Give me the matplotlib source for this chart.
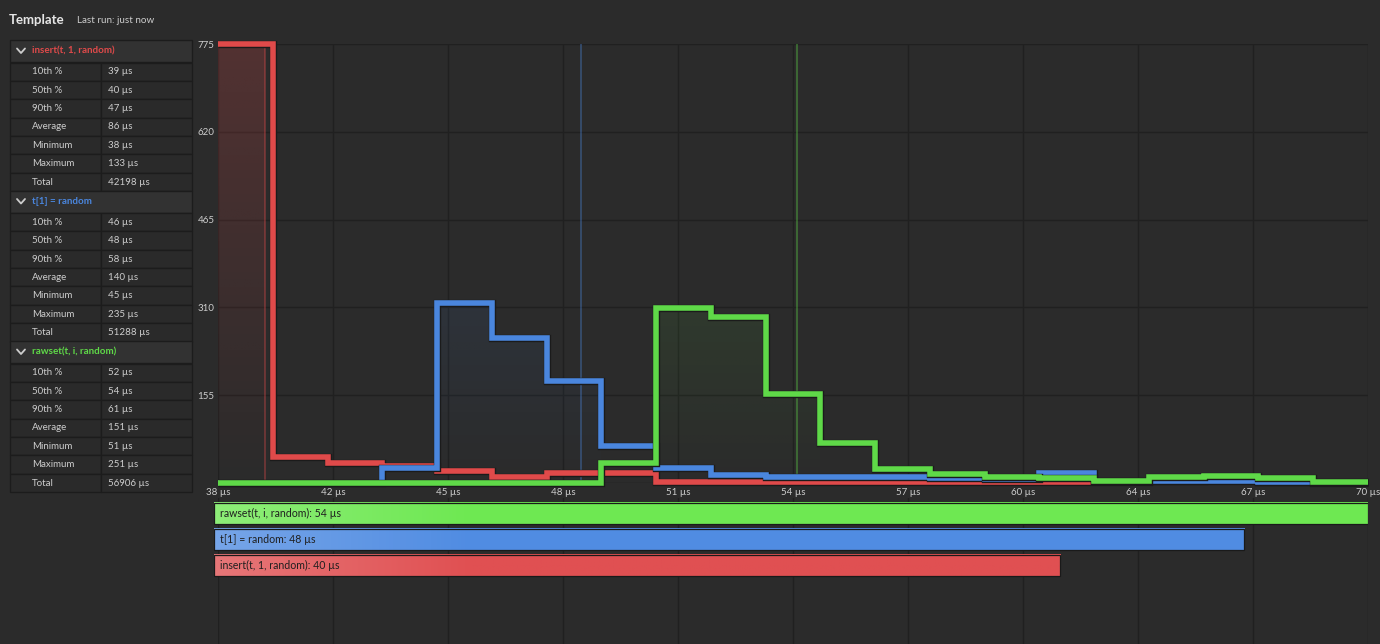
import numpy as np
import matplotlib
matplotlib.use("Agg")
import matplotlib.pyplot as plt
import matplotlib.patheffects as pe
from matplotlib.patches import Rectangle, PathPatch
from matplotlib.path import Path

plt.rcParams['font.family'] = ['Lato', 'DejaVu Sans']

# ---- data ----
x_tick_labels = ["38 µs", "42 µs", "45 µs", "48 µs", "51 µs", "54 µs",
                 "57 µs", "60 µs", "64 µs", "67 µs", "70 µs"]
y_ticks = [0, 155, 310, 465, 620, 775]

series_names = ["insert(t, 1, random)", "t[1] = random", "rawset(t, i, random)"]
line_colors = ["#e04a4a", "#4a86de", "#5fd948"]
bar_colors = ["#e05052", "#508ce2", "#6ee852"]

insert_counts = [775, 46, 35, 30.5, 21, 11, 18, 17, 2, 2, 2, 2, 2, 2,
                 1, 1, 1, 3.5, 6.5, 2.3, 0]
assign_counts = [0, 0, 0, 26, 318, 256, 180, 66, 27, 14, 11, 10.5, 10, 8.8,
                 7, 17, 4, 3, 3, 2, 2]
rawset_counts = [0, 0, 0, 0, 0, 0, 0, 35, 309, 293, 157, 71, 24, 16,
                 11, 8.3, 4, 10, 13, 8.8, 2.3]

median_lines = [39.3, 48.1, 54.1]
fill_ranges = [(38.0, 39.3), (44.1, 48.67), (50.19, 54.76)]

bar_values = [39.6, 48.2, 54.0]
bar_medians = [40, 48, 54]

stat_names = ["10th %", "50th %", "90th %", "Average", "Minimum", "Maximum", "Total"]
insert_stats = [39, 40, 47, 86, 38, 133, 42198]
assign_stats = [46, 48, 58, 140, 45, 235, 51288]
rawset_stats = [52, 54, 61, 151, 51, 251, 56906]

# ---- layout helpers ----
W, H = 1380, 644
BG = "#2b2b2b"
GRID = "#202020"
TXT = "#cdcdcd"


def px_rect(x0, y0, x1, y1):
    return [x0 / W, 1 - y1 / H, (x1 - x0) / W, (y1 - y0) / H]


fig = plt.figure(figsize=(W / 100, H / 100), dpi=100, facecolor=BG)

bg = fig.add_axes([0, 0, 1, 1], zorder=0)
bg.set_xlim(0, W)
bg.set_ylim(H, 0)
bg.axis("off")

# title
bg.text(9, 20, "Template", color="#e6e6e6", fontsize=9.5, fontweight="bold", va="center")
bg.text(77, 20, "Last run: just now", color=TXT, fontsize=7.1, va="center")

# stats table
all_stats = [insert_stats, assign_stats, rawset_stats]
for s, (name, stats) in enumerate(zip(series_names, all_stats)):
    y0 = 40 + s * 150.5
    bg.add_patch(Rectangle((10, y0), 182, 22, facecolor="#323232",
                           edgecolor="#1c1c1c", lw=1))
    cy = y0 + 11
    bg.plot([17, 21, 25], [cy - 2.5, cy + 2, cy - 2.5], color=TXT, lw=1.3,
            solid_capstyle="round")
    bg.text(32, cy, name, color=line_colors[s], fontsize=7.1,
            fontweight="bold", va="center")
    for r, (label, val) in enumerate(zip(stat_names, stats)):
        ry = y0 + 22.5 + r * 18.36
        bg.add_patch(Rectangle((10, ry), 91, 18.36, facecolor="#2a2a2a",
                               edgecolor="#1c1c1c", lw=1))
        bg.add_patch(Rectangle((101, ry), 91, 18.36, facecolor="#2a2a2a",
                               edgecolor="#1c1c1c", lw=1))
        bg.text(32, ry + 9.4, label, color=TXT, fontsize=7.0, va="center")
        bg.text(108, ry + 9.4, f"{val} µs", color=TXT, fontsize=7.0, va="center")

# ---- histogram ----
ax = fig.add_axes(px_rect(218, 44, 1368, 483), zorder=2)
ax.set_facecolor("none")
edges = np.linspace(38, 70, len(insert_counts) + 1)
ax.set_xticks(np.linspace(38, 70, len(x_tick_labels)))
ax.set_xticklabels(x_tick_labels)
ax.set_yticks(y_ticks)
ax.set_yticklabels([""] + [str(v) for v in y_ticks[1:]])
ax.tick_params(length=0, colors=TXT, labelsize=7.0)
ax.tick_params(axis="x", pad=3.5)
ax.tick_params(axis="y", pad=2.5)
for sp in ax.spines.values():
    sp.set_visible(False)
ax.grid(color=GRID, lw=1)
ax.set_axisbelow(True)


def gradient_fill(counts, x0, x1, color, amax):
    verts = []
    for i, c in enumerate(counts):
        a, b = max(edges[i], x0), min(edges[i + 1], x1)
        if b > a:
            verts += [(a, c), (b, c)]
    verts += [(x1, 0), (x0, 0), verts[0]]
    patch = PathPatch(Path(verts), facecolor="none", edgecolor="none",
                      transform=ax.transData)
    ax.add_patch(patch)
    img = np.zeros((256, 1, 4))
    img[..., :3] = matplotlib.colors.to_rgb(color)
    img[:, 0, 3] = np.linspace(amax, 0.0, 256)
    im = ax.imshow(img, extent=[x0, x1, 0, 775], aspect="auto",
                   origin="upper", zorder=1, interpolation="bilinear")
    im.set_clip_path(patch)


all_counts = [insert_counts, assign_counts, rawset_counts]
for k in range(3):
    gradient_fill(all_counts[k], fill_ranges[k][0], fill_ranges[k][1],
                  line_colors[k], 0.22)
    ax.axvline(median_lines[k], color=line_colors[k], alpha=0.35, lw=1.4, zorder=2)

for k in range(3):
    ax.stairs(all_counts[k], edges, baseline=None, color=line_colors[k], lw=4,
              zorder=3 + k, clip_on=False,
              path_effects=[pe.Stroke(linewidth=5.3, foreground="#1b1b1b"),
                            pe.Normal()])
ax.set_xlim(38, 70)
ax.set_ylim(0, 775)

# ---- bottom grid + median bars ----
gx = fig.add_axes(px_rect(218, 498, 1368, 644), zorder=1)
gx.set_facecolor("none")
gx.set_xlim(38, 70)
gx.set_xticks(np.linspace(38, 70, len(x_tick_labels)))
gx.set_yticks([])
gx.tick_params(length=0, labelbottom=False)
for sp in gx.spines.values():
    sp.set_visible(False)
gx.grid(axis="x", color=GRID, lw=1)

bx = fig.add_axes(px_rect(214, 497, 1368, 644), zorder=3)
bx.set_facecolor("none")
bx.axis("off")
order = [2, 1, 0]
for row, k in enumerate(order):
    base = np.array(matplotlib.colors.to_rgb(bar_colors[k]))
    xs = np.linspace(0, bar_values[k], 300)
    w = np.clip(1 - xs / 12.0, 0, 1) * 0.22
    img = base[None, :] * (1 - w[:, None]) + w[:, None]
    bx.imshow(img[None, :, :], extent=[0, bar_values[k], row + 0.405, row - 0.405],
              aspect="auto", zorder=1)
    bx.add_patch(Rectangle((0, row - 0.405), bar_values[k], 0.81, fill=False,
                           edgecolor="#1a1a1a", lw=0.9, zorder=2))
    bx.annotate(f"{series_names[k]}: {bar_medians[k]} µs", xy=(0, row),
                xytext=(4.5, 0), textcoords="offset points", va="center",
                color="#1f1f1f", fontsize=7.6)
bx.set_xlim(0, bar_values[2])
bx.set_ylim(5.0, -0.65)

fig.savefig("out.png", dpi=100, facecolor=BG)
